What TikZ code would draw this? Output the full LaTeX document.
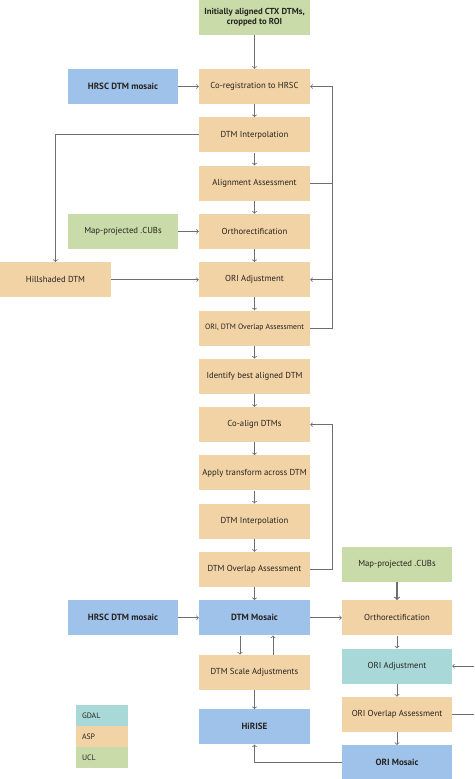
\documentclass[tikz,border=0pt]{standalone}
\usepackage{fontspec}
\setmainfont{PT Sans}
\usepackage{tikz}
\definecolor{aspcol}{HTML}{F2D3A6}
\definecolor{uclcol}{HTML}{C8DBA9}
\definecolor{hrcol}{HTML}{9EC2EA}
\definecolor{gdalcol}{HTML}{A9D8D8}
\definecolor{txtcol}{HTML}{262320}
\definecolor{linecol}{HTML}{6E6E6E}
\tikzset{>=to}
\begin{document}
\begin{tikzpicture}[x=1pt,y=1pt,node distance=48.3pt,
    box/.style={rectangle,minimum width=111pt,minimum height=35pt,inner sep=1pt,
        align=center,text=txtcol,font=\fontsize{8.7}{10}\selectfont},
    bold/.style={font=\bfseries\fontsize{9}{10.5}\selectfont},
    asp/.style={box,fill=aspcol},
    ucl/.style={box,fill=uclcol},
    data/.style={box,fill=hrcol},
    gdal/.style={box,fill=gdalcol},
    key/.style={rectangle,minimum width=52pt,minimum height=21pt,inner sep=0pt,
        text width=40pt,align=left,text=txtcol,font=\fontsize{7.8}{8}\selectfont},
    link/.style={draw=linecol,line width=0.8pt}]
    \useasboundingbox (0,0) rectangle (474,-779);
    % main column
    \node[ucl,font=\bfseries\fontsize{8.7}{10.5}\selectfont] (ctx) at (254.5,-17.5) {Initially aligned CTX DTMs,\\cropped to ROI};
    \node[asp] (coreg) at (254.5,-86.5) {Co-registration to HRSC};
    \node[asp,below of=coreg] (interpA) {DTM Interpolation};
    \node[asp,below of=interpA] (align) {Alignment Assessment};
    \node[asp,below of=align] (orthoA) {Orthorectification};
    \node[asp,below of=orthoA] (oriadjA) {ORI Adjustment};
    \node[asp,below of=oriadjA,font=\fontsize{7.7}{9}\selectfont] (oridtm) {ORI, DTM Overlap Assessment};
    \node[asp,below of=oridtm] (best) {Identify best aligned DTM};
    \node[asp,below of=best] (coalign) {Co-align DTMs};
    \node[asp,below of=coalign] (apply) {Apply transform across DTM};
    \node[asp,below of=apply] (interpB) {DTM Interpolation};
    \node[asp,below of=interpB] (overlap) {DTM Overlap Assessment};
    \node[data,bold,below of=overlap] (mosaic) {DTM Mosaic};
    \node[asp,below of=mosaic,node distance=54.5pt] (scale) {DTM Scale Adjustments};
    \node[data,bold,below of=scale,node distance=54.5pt] (hirise) {HiRISE};
    % inputs on the left
    \node[data,bold,left of=coreg,node distance=131.5pt,minimum width=110pt] (hrscA) {HRSC DTM mosaic};
    \node[ucl,left of=orthoA,node distance=131.5pt,minimum width=110pt] (cubsA) {Map-projected .CUBs};
    \node[asp,left of=oriadjA,node distance=199pt] (hill) {Hillshaded DTM};
    \node[data,bold,left of=mosaic,node distance=131.5pt,minimum width=110pt] (hrscB) {HRSC DTM mosaic};
    % ORI branch on the right
    \node[asp,right of=mosaic,node distance=142.5pt,minimum width=110pt] (orthoB) {Orthorectification};
    \node[ucl,above of=orthoB,node distance=53.5pt,minimum width=110pt] (cubsB) {Map-projected .CUBs};
    \node[gdal,below of=orthoB,minimum width=110pt] (oriadjB) {ORI Adjustment};
    \node[asp,below of=oriadjB,minimum width=110pt] (orilap) {ORI Overlap Assessment};
    \node[data,bold,below of=orilap,minimum width=110pt] (orimos) {ORI Mosaic};
    \coordinate (edge) at (474,-700);
    % key
    \node[key,fill=gdalcol] (kgdal) at (102,-715.5) {GDAL};
    \node[key,fill=aspcol,below of=kgdal,node distance=21pt] (kasp) {ASP};
    \node[key,fill=uclcol,below of=kasp,node distance=21pt] (kucl) {UCL};
    % arrows
    \path[link,->] (ctx) edge (coreg) (hrscA) edge (coreg)
        (coreg) edge (interpA) (interpA) edge (align) (align) edge (orthoA)
        (cubsA) edge (orthoA) (orthoA) edge (oriadjA) (hill) edge (oriadjA)
        (oriadjA) edge (oridtm) (oridtm) edge (best) (best) edge (coalign)
        (coalign) edge (apply) (apply) edge (interpB) (interpB) edge (overlap)
        (overlap) edge (mosaic) (hrscB) edge (mosaic) (mosaic) edge (orthoB)
        (scale) edge (hirise) (orthoB) edge (oriadjB) (oriadjB) edge (orilap)
        (orilap) edge (orimos);
    \draw[link,->,line width=1.2pt] (cubsB) -- (orthoB);
    \draw[link,->] (interpA.west) -| (hill.north);
    \draw[link] (align.east) -- ([xshift=22pt]align.east);
    \draw[link,->] (oridtm.east) -| ([xshift=22pt]coreg.east) -- (coreg.east);
    \draw[link,->] ([xshift=22pt]oriadjA.east) -- (oriadjA.east);
    \draw[link,->] (overlap.east) -| ([xshift=22pt]coalign.east) -- (coalign.east);
    \draw[link,->] ([xshift=-14.5pt]mosaic.south) -- ([xshift=-14.5pt]scale.north);
    \draw[link,->] ([xshift=18.5pt]scale.north) -- ([xshift=18.5pt]mosaic.south);
    \draw[link,->] (orimos.west) -| (hirise.south);
    \draw[link,->] (oriadjB.east -| edge) -- (oriadjB.east);
    \draw[link] (orilap.east) -- (orilap.east -| edge);
\end{tikzpicture}
\end{document}
